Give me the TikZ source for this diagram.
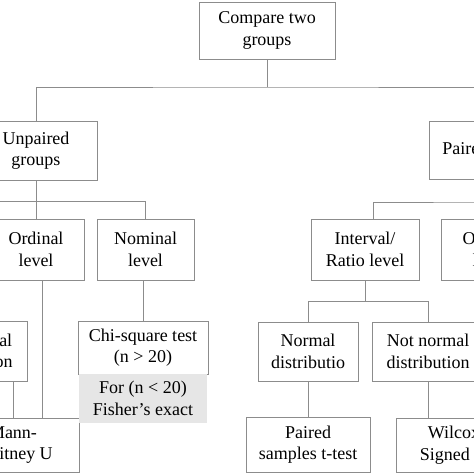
\documentclass[tikz,border=0pt]{standalone}
\usepackage{fontspec}
\setmainfont{Liberation Serif}
\usepackage{tikz}
\usetikzlibrary{positioning, calc}
\usepackage{xcolor}
\definecolor{linegray}{HTML}{8C8C8C}
\definecolor{notegray}{HTML}{E6E6E6}

\begin{document}
\begin{tikzpicture}[x=1pt, y=-1pt,
    box/.style={draw=linegray, line width=0.9pt, align=center, inner sep=0pt,
        font=\fontsize{18}{21.5}\selectfont},
    note/.style={fill=notegray, align=center, inner sep=0pt,
        font=\fontsize{18}{21.5}\selectfont},
    link/.style={draw=linegray, line width=0.9pt}]
\useasboundingbox (0,0) rectangle (474,474);
\clip (0,0) rectangle (474,474);

% Top level
\node[box, minimum width=136pt, minimum height=57pt] (cmp) at (267, 30.5) {Compare two\\groups};
\node[box, minimum width=122pt, minimum height=59pt] (unp) at (36, 150.5) {Unpaired\\groups};
\node[box, minimum width=125pt, minimum height=58pt] (pair) at (492, 150) {Paired groups};
\coordinate (j1) at (267, 87);
\draw[link] (cmp.south) -- (j1);
\draw[link] (unp.north) |- (j1) -| (pair.north);

% Unpaired branch
\node[box, minimum width=96pt, minimum height=61pt] (ord) at (36, 249.5) {Ordinal\\level};
\node[box, minimum width=97pt, minimum height=61pt] (nom) at (145.5, 249.5) {Nominal\\level};
\node[box, minimum width=112pt, minimum height=60pt] (ndl) at (-29, 351) {Not normal\\distribution};
\node[box, minimum width=132pt, minimum height=54pt] (mwu) at (13, 445) {Mann-\\Whitney U};
\node[box, minimum width=130pt, minimum height=53pt] (chi) at (143, 347.5) {Chi-square test\\(n > 20)};
\node[note, minimum width=128pt, minimum height=49pt] (fis) at (143, 398.5) {For (n < 20)\\Fisher’s exact};
\coordinate (jl) at (-80, 201);
\draw[link] (unp.south) -- (ord.north);
\draw[link] (jl) -| (nom.north |- 0, 201) -- (nom.north);
\draw[link] ([xshift=6pt]ord.south) -- ([xshift=6pt]ord.south |- mwu.north);
\draw[link] (ndl.south -| mwu.north) -- (mwu.north);
\draw[link] (nom.south -| chi.north) -- (chi.north);

% Paired branch
\node[box, minimum width=108pt, minimum height=61pt] (intr) at (365, 249.5) {Interval/\\Ratio level};
\node[box, minimum width=98pt, minimum height=61pt] (ordr) at (490, 249.5) {Ordinal\\level};
\coordinate (j2) at (492, 202);
\draw[link] (pair.south) -- (j2);
\draw[link] ([xshift=8pt]intr.north) |- (j2) -| (ordr.north);
\draw[link] (j2) -- (560, 202);

\node[box, minimum width=100pt, minimum height=59pt] (nd) at (308, 351.5) {Normal\\distributio};
\node[box, minimum width=112pt, minimum height=59pt] (nnr) at (428, 351.5) {Not normal\\distribution};
\node[box, minimum width=124pt, minimum height=55pt] (pst) at (308, 444.5) {Paired\\samples t-test};
\node[box, minimum width=134pt, minimum height=54pt] (wil) at (463, 445) {Wilcoxon\\Signed rank};
\draw[link] (intr.south) -- ++(0, 21) coordinate (j3);
\draw[link] (nd.north) |- (j3) -| (nnr.north);
\draw[link] (nd.south) -- (pst.north);
\draw[link] (nnr.south) -- (nnr.south |- wil.north);
\end{tikzpicture}
\end{document}
